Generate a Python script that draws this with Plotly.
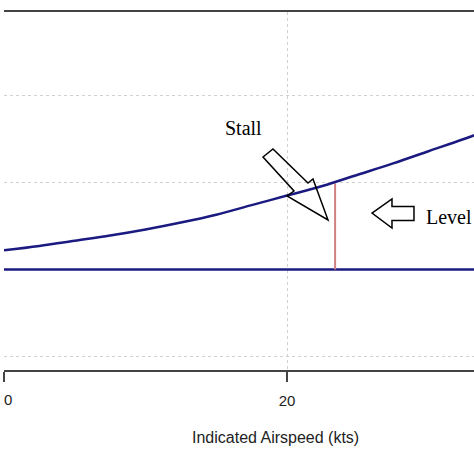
import plotly.graph_objects as go

# curve (load factor vs indicated airspeed)
airspeed = [0, 2.5, 5, 7.5, 10, 12.5, 15, 17.5, 20, 22.5, 25, 27.5, 30, 32.5, 35]
load_factor = [1.22, 1.27, 1.33, 1.39, 1.46, 1.54, 1.63, 1.74, 1.85, 1.96, 2.09, 2.22, 2.36, 2.50, 2.65]

level_x = [0, 35]
level_y = [1, 1]

stall_x = [23.4, 23.4]
stall_y = [1, 1.99]

x_ticks = [0, 20, 40]
x_ticklabels = ["", "20", "40"]
y_grid = [0, 1, 2, 3]

# plot area in pixels (474x474 page)
left, right, top, bottom = 4, 474, 12, 370


def to_paper(px, py):
    return (px - left) / (right - left), (bottom - py) / (bottom - top)


def path_from(points):
    pts = [to_paper(px, py) for px, py in points]
    return "M " + " L ".join(f"{x:.4f},{y:.4f}" for x, y in pts) + " Z"


stall_arrow = [(263, 157), (273, 149), (308, 183), (313, 179), (328, 220), (287, 196), (294, 191)]
level_arrow = [(372, 213), (392, 199), (392, 206.5), (414, 206.5), (414, 220.5), (392, 220.5), (392, 228)]

fig = go.Figure()

fig.add_trace(
    go.Scatter(
        x=level_x, y=level_y, mode="lines",
        line=dict(color="#1a1a80", width=2.5),
    )
)
fig.add_trace(
    go.Scatter(
        x=stall_x, y=stall_y, mode="lines",
        line=dict(color="#d08080", width=2),
    )
)
fig.add_trace(
    go.Scatter(
        x=airspeed, y=load_factor, mode="lines",
        line=dict(color="#1a1a80", width=2.5, shape="spline"),
    )
)

shapes = []
for arrow in (stall_arrow, level_arrow):
    shapes.append(
        dict(
            type="path", xref="paper", yref="paper",
            path=path_from(arrow),
            line=dict(color="black", width=1.5),
            fillcolor="rgba(0,0,0,0)",
        )
    )

sx, sy = to_paper(244, 128)
lx, ly = to_paper(424, 217)
tx, ty = to_paper(275, 438)
zx, zy = to_paper(8, 399)

annotations = [
    dict(text="Stall", x=sx, y=sy, xref="paper", yref="paper", showarrow=False,
         xanchor="center", yanchor="middle",
         font=dict(family="Liberation Serif", size=20, color="black")),
    dict(text="Level", x=lx, y=ly, xref="paper", yref="paper", showarrow=False,
         xanchor="left", yanchor="middle",
         font=dict(family="Liberation Serif", size=20, color="black")),
    dict(text="Indicated Airspeed (kts)", x=tx, y=ty, xref="paper", yref="paper",
         showarrow=False, xanchor="center", yanchor="middle",
         font=dict(family="Liberation Sans", size=16, color="#222222")),
    dict(text="0", x=zx, y=zy, xref="paper", yref="paper", showarrow=False,
         xanchor="center", yanchor="middle",
         font=dict(family="Liberation Sans", size=15, color="#222222")),
]

fig.update_layout(
    width=474,
    height=474,
    margin=dict(l=left, r=0, t=top, b=474 - bottom, pad=0),
    paper_bgcolor="white",
    plot_bgcolor="white",
    showlegend=False,
    shapes=shapes,
    annotations=annotations,
    xaxis=dict(
        range=[0, (right - left) / 14.15],
        tickvals=x_ticks,
        ticktext=x_ticklabels,
        ticks="outside",
        ticklen=10,
        tickwidth=1.5,
        tickcolor="#444444",
        ticklabelstandoff=6,
        tickfont=dict(family="Liberation Sans", size=15, color="#222222"),
        showline=True,
        linecolor="#444444",
        linewidth=2,
        mirror=True,
        showgrid=True,
        gridcolor="#d0d0d0",
        griddash="dot",
        gridwidth=1,
        zeroline=False,
    ),
    yaxis=dict(
        range=[-0.155, 3.96],
        tickvals=y_grid,
        showticklabels=False,
        ticks="",
        showline=False,
        showgrid=True,
        gridcolor="#d0d0d0",
        griddash="dot",
        gridwidth=1,
        zeroline=False,
    ),
)

# drop the page's default body margin so the 474px figure fills the window
fig.write_html(
    "out.html",
    config={"displayModeBar": False},
    post_script="document.body.style.margin = '0';",
)
